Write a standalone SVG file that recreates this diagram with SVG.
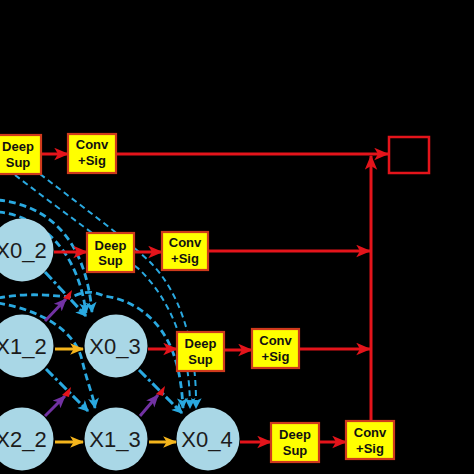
<svg xmlns="http://www.w3.org/2000/svg" width="474" height="474" viewBox="0 0 474 474">
<defs>
<style>
.red{stroke:#e4141b;stroke-width:3;fill:none}
.yel{stroke:#f5b51c;stroke-width:3;fill:none}
.pur{stroke:#7232a3;stroke-width:3;fill:none}
.dash{stroke:#2aa9e0;stroke-width:2.8;fill:none;stroke-dasharray:7 4}
.thin{stroke:#2aa9e0;stroke-width:2;fill:none;stroke-dasharray:6 4}
.dd{stroke:#2aa9e0;stroke-width:3;fill:none;stroke-dasharray:10 3 3 3}
.node{fill:#a9d7e6}
.nt{font-family:"Liberation Sans",Arial,sans-serif;font-size:22px;fill:#1c1c1c;text-anchor:middle}
.box{fill:#ffff00;stroke:#cf3a1c;stroke-width:2.2}
.bt{font-family:"Liberation Sans",Arial,sans-serif;font-size:13px;font-weight:bold;fill:#111;text-anchor:middle}
.tri{fill:#e4141b}
</style>
<marker id="ar" viewBox="0 0 12 10" refX="11" refY="5" markerWidth="15" markerHeight="13" markerUnits="userSpaceOnUse" orient="auto">
<path d="M0,0 L12,5 L0,10 L3,5 z" fill="#e4141b"/>
</marker>
<marker id="ay" viewBox="0 0 12 10" refX="11" refY="5" markerWidth="14" markerHeight="12" markerUnits="userSpaceOnUse" orient="auto">
<path d="M0,0 L12,5 L0,10 L3,5 z" fill="#f5b51c"/>
</marker>
<marker id="ap" viewBox="0 0 12 10" refX="11" refY="5" markerWidth="13" markerHeight="11" markerUnits="userSpaceOnUse" orient="auto">
<path d="M0,0 L12,5 L0,10 L3,5 z" fill="#7232a3"/>
</marker>
<marker id="ab" viewBox="0 0 10 10" refX="9" refY="5" markerWidth="12" markerHeight="11" markerUnits="userSpaceOnUse" orient="auto">
<path d="M0,0 L10,5 L0,10 L2.5,5 z" fill="#2aa9e0"/>
</marker>
</defs>
<rect x="0" y="0" width="474" height="474" fill="#000"/>

<g id="connectors">
<path class="dash" d="M -2 200 C 45 205, 85 235, 92 312" marker-end="url(#ab)"/>
<path class="dash" d="M -2 212 C 40 216, 78 250, 86 313" marker-end="url(#ab)"/>
<path class="dash" d="M -2 298 C 30 292, 55 296, 72 297 C 82 292, 92 290, 104 296 C 135 300, 160 320, 172 350 C 180 370, 182 390, 183 408" marker-end="url(#ab)"/>
<path class="thin" d="M 15 175 C 60 210, 110 245, 140 270 C 170 300, 190 345, 190 408" marker-end="url(#ab)"/>
<path class="thin" d="M 40 174 C 80 205, 125 238, 150 262 C 178 290, 197 340, 196 408" marker-end="url(#ab)"/>
<path class="dash" d="M -2 303 C 40 310, 75 330, 82 360 C 88 385, 93 395, 95 408" marker-end="url(#ab)"/>
<path class="dd" d="M 45 272 L 86 316" marker-end="url(#ab)"/>
<path class="dd" d="M 46 369 L 88 411" marker-end="url(#ab)"/>
<path class="dd" d="M 139 370 L 182 413" marker-end="url(#ab)"/>
<path class="pur" d="M 45 321 L 66 299" marker-end="url(#ap)"/>
<path class="pur" d="M 45 416 L 65 396" marker-end="url(#ap)"/>
<path class="pur" d="M 140 416 L 158 395" marker-end="url(#ap)"/>
<polygon class="tri" points="63,298 72,290 70,300"/>
<polygon class="tri" points="62,395 71,387 69,397"/>
<polygon class="tri" points="156,394 165,386 163,396"/>
<path class="yel" d="M 55 349 L 83 349" marker-end="url(#ay)"/>
<path class="yel" d="M 55 442 L 83 442" marker-end="url(#ay)"/>
<path class="yel" d="M 149 442 L 176 442" marker-end="url(#ay)"/>
<path class="red" d="M 41 154 L 68 154" marker-end="url(#ar)"/>
<path class="red" d="M 116 154 L 388 154" marker-end="url(#ar)"/>
<path class="red" d="M 54 252 L 87 252" marker-end="url(#ar)"/>
<path class="red" d="M 134 252 L 162 252" marker-end="url(#ar)"/>
<path class="red" d="M 208 251 L 370 251" marker-end="url(#ar)"/>
<path class="red" d="M 148 349 L 177 349" marker-end="url(#ar)"/>
<path class="red" d="M 224 350 L 252 350" marker-end="url(#ar)"/>
<path class="red" d="M 299 349 L 370 349" marker-end="url(#ar)"/>
<path class="red" d="M 240 442 L 271 442" marker-end="url(#ar)"/>
<path class="red" d="M 319 442 L 346 442" marker-end="url(#ar)"/>
<path class="red" d="M 371 421 L 371 156" marker-end="url(#ar)"/>
</g>

<g id="X0_2"><circle class="node" cx="22" cy="250" r="31.5"/><text class="nt" x="21" y="258">X0_2</text></g>
<g id="X1_2"><circle class="node" cx="22" cy="346" r="31.5"/><text class="nt" x="21" y="354">X1_2</text></g>
<g id="X2_2"><circle class="node" cx="22" cy="439" r="31.5"/><text class="nt" x="21" y="447">X2_2</text></g>
<g id="X0_3"><circle class="node" cx="116" cy="346" r="31.5"/><text class="nt" x="115" y="354">X0_3</text></g>
<g id="X1_3"><circle class="node" cx="116" cy="439" r="31.5"/><text class="nt" x="115" y="447">X1_3</text></g>
<g id="X0_4"><circle class="node" cx="208" cy="439" r="31.5"/><text class="nt" x="207" y="447">X0_4</text></g>

<g id="ds0"><rect class="box" x="-6" y="135" width="47" height="39"/><text class="bt" x="18" y="151">Deep</text><text class="bt" x="18" y="167">Sup</text></g>
<g id="cs0"><rect class="box" x="68" y="134" width="48" height="39"/><text class="bt" x="92" y="149">Conv</text><text class="bt" x="92" y="165">+Sig</text></g>
<g id="ds1"><rect class="box" x="87" y="233" width="47" height="39"/><text class="bt" x="110.5" y="250">Deep</text><text class="bt" x="110.5" y="265">Sup</text></g>
<g id="cs1"><rect class="box" x="162" y="232" width="46" height="38"/><text class="bt" x="185" y="247">Conv</text><text class="bt" x="185" y="263">+Sig</text></g>
<g id="ds2"><rect class="box" x="177" y="332" width="47" height="39"/><text class="bt" x="200.5" y="348">Deep</text><text class="bt" x="200.5" y="364">Sup</text></g>
<g id="cs2"><rect class="box" x="252" y="329" width="47" height="39"/><text class="bt" x="275.5" y="345">Conv</text><text class="bt" x="275.5" y="361">+Sig</text></g>
<g id="ds3"><rect class="box" x="271" y="423" width="48" height="39"/><text class="bt" x="295" y="439">Deep</text><text class="bt" x="295" y="455">Sup</text></g>
<g id="cs3"><rect class="box" x="346" y="421" width="48" height="38"/><text class="bt" x="370" y="437">Conv</text><text class="bt" x="370" y="453">+Sig</text></g>
<g id="out"><rect x="389" y="137" width="40" height="36" fill="none" stroke="#e4141b" stroke-width="2.5"/></g>
</svg>
